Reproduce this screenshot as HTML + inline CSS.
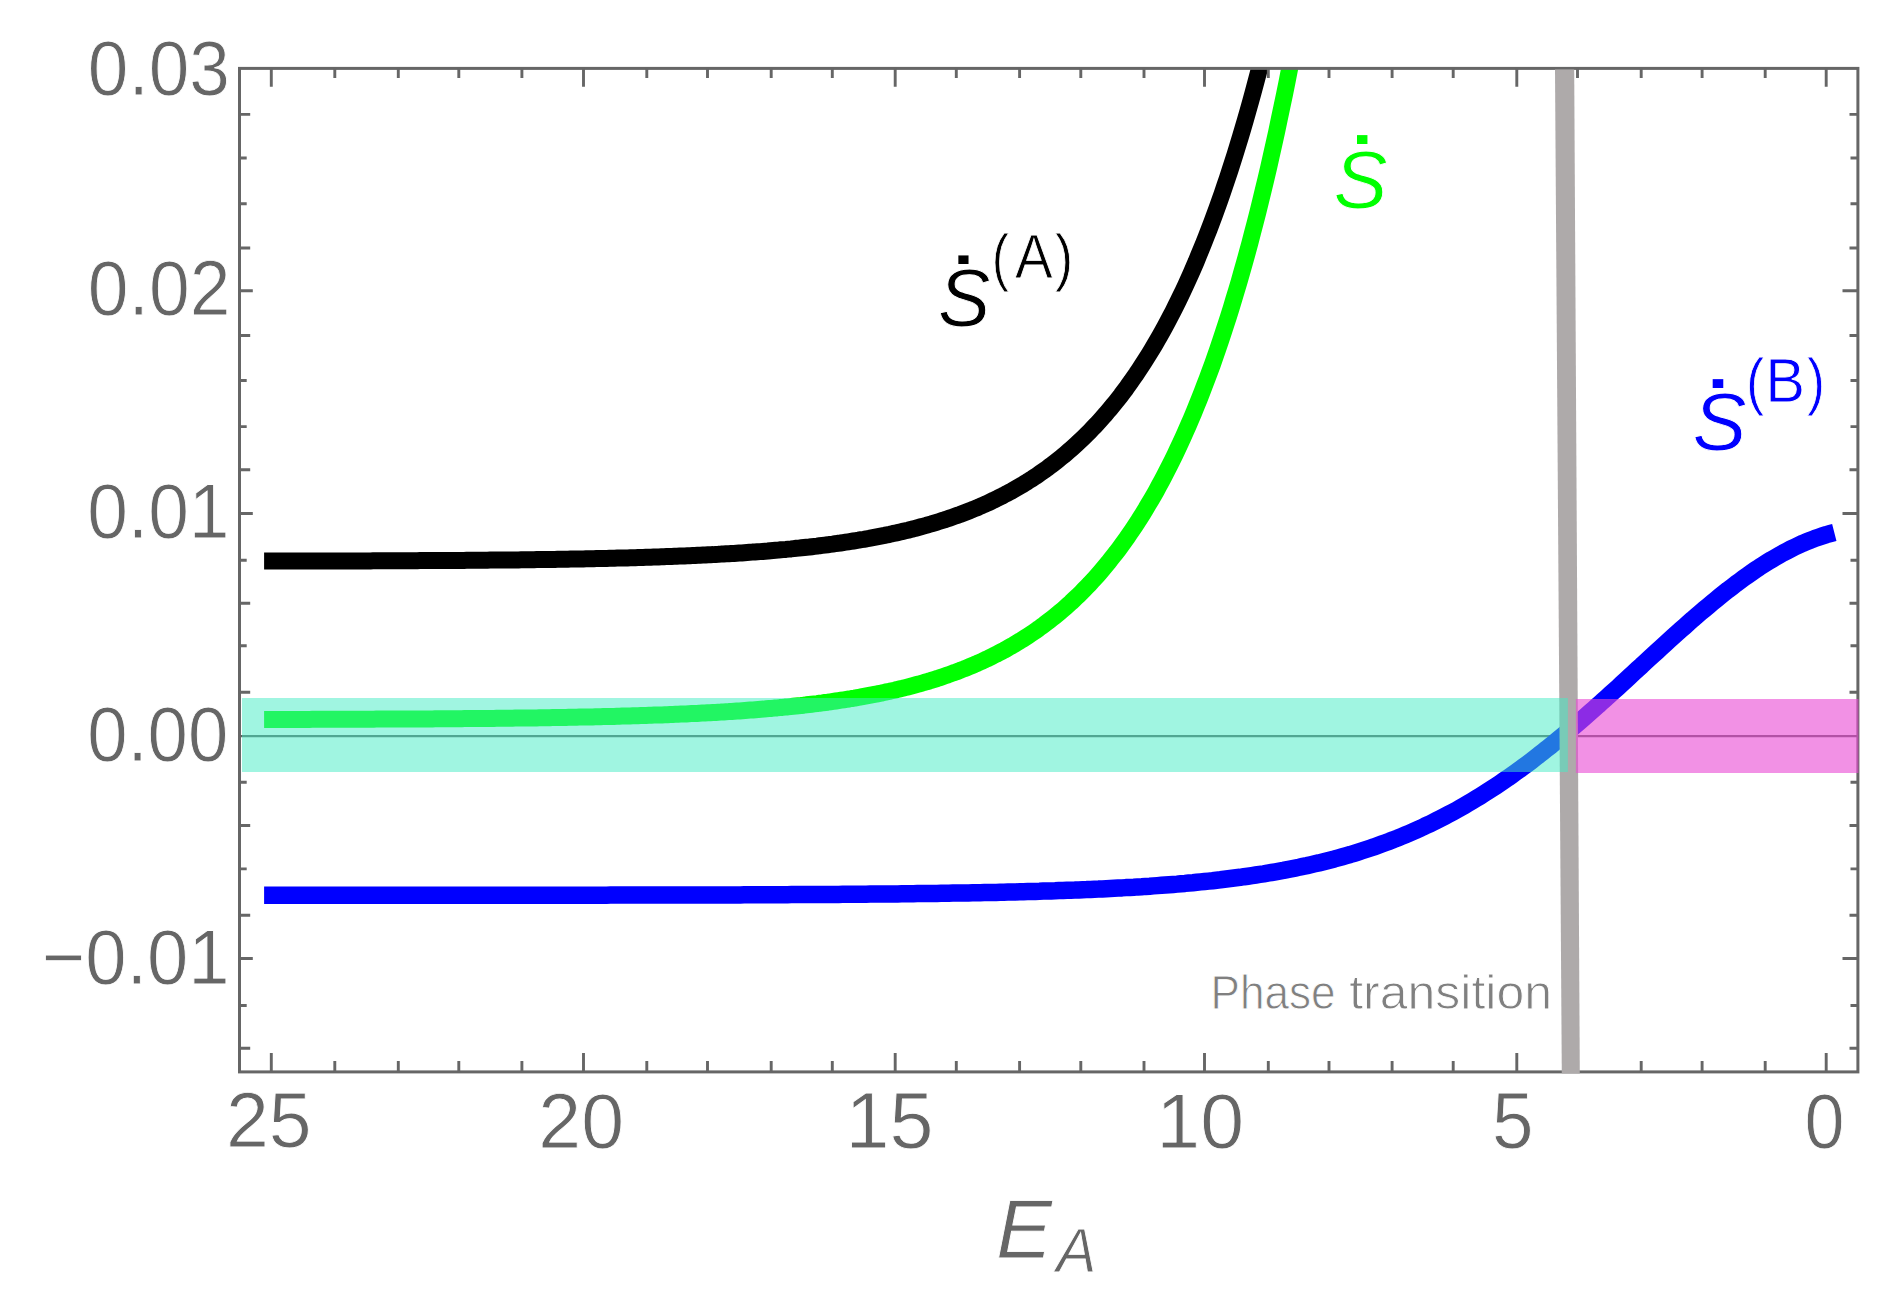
<!DOCTYPE html>
<html lang="en"><head><meta charset="utf-8"><title>Entropy production vs E_A</title>
<style>
html,body{margin:0;padding:0;background:#fff;}
body{width:1897px;height:1306px;overflow:hidden;}
svg{display:block;}
text{font-family:"Liberation Sans",sans-serif;font-kerning:none;white-space:pre;}
</style></head><body>
<svg width="1897" height="1306" viewBox="0 0 1897 1306">
<defs><clipPath id="plot"><rect x="238" y="66.9" width="1622" height="1007"/></clipPath></defs>
<rect width="1897" height="1306" fill="#fff"/>

<line x1="241.0" y1="736.2" x2="1857.9" y2="736.2" stroke="#606060" stroke-width="2.3"/>
<g fill="none" stroke-width="17" stroke-linecap="butt" stroke-linejoin="round" clip-path="url(#plot)">
<path d="M264.1 561.1 L266.7 561.1 L269.3 561.1 L271.9 561.1 L274.5 561.1 L277.1 561.1 L279.7 561.1 L282.3 561.1 L284.9 561.1 L287.5 561.1 L290.1 561.1 L292.7 561.1 L295.3 561.1 L297.9 561.1 L300.4 561.1 L303.0 561.0 L305.6 561.0 L308.2 561.0 L310.8 561.0 L313.4 561.0 L316.0 561.0 L318.6 561.0 L321.2 561.0 L323.8 561.0 L326.4 561.0 L329.0 561.0 L331.6 561.0 L334.2 561.0 L336.8 561.0 L339.4 561.0 L342.0 561.0 L344.6 560.9 L347.2 560.9 L349.8 560.9 L352.4 560.9 L355.0 560.9 L357.6 560.9 L360.2 560.9 L362.8 560.9 L365.4 560.9 L367.9 560.9 L370.5 560.9 L373.1 560.8 L375.7 560.8 L378.3 560.8 L380.9 560.8 L383.5 560.8 L386.1 560.8 L388.7 560.8 L391.3 560.8 L393.9 560.8 L396.5 560.8 L399.1 560.7 L401.7 560.7 L404.3 560.7 L406.9 560.7 L409.5 560.7 L412.1 560.7 L414.7 560.7 L417.3 560.7 L419.9 560.6 L422.5 560.6 L425.1 560.6 L427.7 560.6 L430.3 560.6 L432.9 560.6 L435.5 560.6 L438.0 560.5 L440.6 560.5 L443.2 560.5 L445.8 560.5 L448.4 560.5 L451.0 560.5 L453.6 560.4 L456.2 560.4 L458.8 560.4 L461.4 560.4 L464.0 560.4 L466.6 560.3 L469.2 560.3 L471.8 560.3 L474.4 560.3 L477.0 560.3 L479.6 560.2 L482.2 560.2 L484.8 560.2 L487.4 560.2 L490.0 560.1 L492.6 560.1 L495.2 560.1 L497.8 560.1 L500.4 560.0 L503.0 560.0 L505.6 560.0 L508.1 560.0 L510.7 559.9 L513.3 559.9 L515.9 559.9 L518.5 559.9 L521.1 559.8 L523.7 559.8 L526.3 559.8 L528.9 559.7 L531.5 559.7 L534.1 559.7 L536.7 559.6 L539.3 559.6 L541.9 559.6 L544.5 559.5 L547.1 559.5 L549.7 559.4 L552.3 559.4 L554.9 559.4 L557.5 559.3 L560.1 559.3 L562.7 559.2 L565.3 559.2 L567.9 559.2 L570.5 559.1 L573.1 559.1 L575.6 559.0 L578.2 559.0 L580.8 558.9 L583.4 558.9 L586.0 558.8 L588.6 558.8 L591.2 558.7 L593.8 558.7 L596.4 558.6 L599.0 558.6 L601.6 558.5 L604.2 558.4 L606.8 558.4 L609.4 558.3 L612.0 558.3 L614.6 558.2 L617.2 558.1 L619.8 558.1 L622.4 558.0 L625.0 557.9 L627.6 557.9 L630.2 557.8 L632.8 557.7 L635.4 557.7 L638.0 557.6 L640.6 557.5 L643.2 557.4 L645.7 557.3 L648.3 557.3 L650.9 557.2 L653.5 557.1 L656.1 557.0 L658.7 556.9 L661.3 556.8 L663.9 556.7 L666.5 556.6 L669.1 556.5 L671.7 556.4 L674.3 556.3 L676.9 556.2 L679.5 556.1 L682.1 556.0 L684.7 555.9 L687.3 555.8 L689.9 555.7 L692.5 555.6 L695.1 555.5 L697.7 555.3 L700.3 555.2 L702.9 555.1 L705.5 555.0 L708.1 554.8 L710.7 554.7 L713.2 554.6 L715.8 554.4 L718.4 554.3 L721.0 554.1 L723.6 554.0 L726.2 553.8 L728.8 553.7 L731.4 553.5 L734.0 553.4 L736.6 553.2 L739.2 553.0 L741.8 552.9 L744.4 552.7 L747.0 552.5 L749.6 552.3 L752.2 552.1 L754.8 552.0 L757.4 551.8 L760.0 551.6 L762.6 551.4 L765.2 551.2 L767.8 551.0 L770.4 550.7 L773.0 550.5 L775.6 550.3 L778.2 550.1 L780.8 549.8 L783.3 549.6 L785.9 549.4 L788.5 549.1 L791.1 548.9 L793.7 548.6 L796.3 548.3 L798.9 548.1 L801.5 547.8 L804.1 547.5 L806.7 547.2 L809.3 547.0 L811.9 546.7 L814.5 546.4 L817.1 546.1 L819.7 545.7 L822.3 545.4 L824.9 545.1 L827.5 544.8 L830.1 544.4 L832.7 544.1 L835.3 543.7 L837.9 543.3 L840.5 543.0 L843.1 542.6 L845.7 542.2 L848.3 541.8 L850.9 541.4 L853.4 541.0 L856.0 540.6 L858.6 540.2 L861.2 539.7 L863.8 539.3 L866.4 538.8 L869.0 538.4 L871.6 537.9 L874.2 537.4 L876.8 536.9 L879.4 536.4 L882.0 535.9 L884.6 535.4 L887.2 534.8 L889.8 534.3 L892.4 533.7 L895.0 533.2 L897.6 532.6 L900.2 532.0 L902.8 531.4 L905.4 530.8 L908.0 530.2 L910.6 529.5 L913.2 528.9 L915.8 528.2 L918.4 527.5 L920.9 526.8 L923.5 526.1 L926.1 525.4 L928.7 524.6 L931.3 523.9 L933.9 523.1 L936.5 522.3 L939.1 521.5 L941.7 520.7 L944.3 519.9 L946.9 519.0 L949.5 518.1 L952.1 517.2 L954.7 516.3 L957.3 515.4 L959.9 514.5 L962.5 513.5 L965.1 512.5 L967.7 511.5 L970.3 510.5 L972.9 509.4 L975.5 508.4 L978.1 507.3 L980.7 506.1 L983.3 505.0 L985.9 503.9 L988.5 502.7 L991.0 501.5 L993.6 500.2 L996.2 499.0 L998.8 497.7 L1001.4 496.4 L1004.0 495.0 L1006.6 493.7 L1009.2 492.3 L1011.8 490.9 L1014.4 489.4 L1017.0 487.9 L1019.6 486.4 L1022.2 484.9 L1024.8 483.3 L1027.4 481.7 L1030.0 480.0 L1032.6 478.4 L1035.2 476.7 L1037.8 474.9 L1040.4 473.1 L1043.0 471.3 L1045.6 469.5 L1048.2 467.6 L1050.8 465.6 L1053.4 463.7 L1056.0 461.6 L1058.5 459.6 L1061.1 457.5 L1063.7 455.4 L1066.3 453.2 L1068.9 450.9 L1071.5 448.7 L1074.1 446.4 L1076.7 444.0 L1079.3 441.6 L1081.9 439.1 L1084.5 436.6 L1087.1 434.0 L1089.7 431.4 L1092.3 428.7 L1094.9 426.0 L1097.5 423.2 L1100.1 420.3 L1102.7 417.4 L1105.3 414.5 L1107.9 411.4 L1110.5 408.4 L1113.1 405.2 L1115.7 402.0 L1118.3 398.7 L1120.9 395.4 L1123.5 391.9 L1126.1 388.5 L1128.6 384.9 L1131.2 381.3 L1133.8 377.5 L1136.4 373.8 L1139.0 369.9 L1141.6 365.9 L1144.2 361.9 L1146.8 357.8 L1149.4 353.6 L1152.0 349.3 L1154.6 345.0 L1157.2 340.5 L1159.8 336.0 L1162.4 331.3 L1165.0 326.6 L1167.6 321.7 L1170.2 316.8 L1172.8 311.8 L1175.4 306.6 L1178.0 301.4 L1180.6 296.0 L1183.2 290.6 L1185.8 285.0 L1188.4 279.3 L1191.0 273.5 L1193.6 267.5 L1196.2 261.5 L1198.7 255.3 L1201.3 249.0 L1203.9 242.6 L1206.5 236.0 L1209.1 229.3 L1211.7 222.5 L1214.3 215.5 L1216.9 208.4 L1219.5 201.1 L1222.1 193.7 L1224.7 186.1 L1227.3 178.4 L1229.9 170.5 L1232.5 162.4 L1235.1 154.2 L1237.7 145.8 L1240.3 137.2 L1242.9 128.5 L1245.5 119.6 L1248.1 110.5 L1250.7 101.2 L1253.3 91.7 L1255.9 82.0 L1258.5 72.2 L1261.1 62.1 L1263.7 51.8 L1266.2 41.3" stroke="#000"/>
<path d="M264.1 719.4 L266.8 719.4 L269.4 719.4 L272.1 719.4 L274.8 719.4 L277.5 719.4 L280.1 719.4 L282.8 719.4 L285.5 719.4 L288.1 719.4 L290.8 719.4 L293.5 719.4 L296.2 719.4 L298.8 719.4 L301.5 719.4 L304.2 719.4 L306.8 719.4 L309.5 719.4 L312.2 719.3 L314.9 719.3 L317.5 719.3 L320.2 719.3 L322.9 719.3 L325.5 719.3 L328.2 719.3 L330.9 719.3 L333.6 719.3 L336.2 719.3 L338.9 719.3 L341.6 719.3 L344.2 719.3 L346.9 719.3 L349.6 719.2 L352.3 719.2 L354.9 719.2 L357.6 719.2 L360.3 719.2 L362.9 719.2 L365.6 719.2 L368.3 719.2 L371.0 719.2 L373.6 719.2 L376.3 719.1 L379.0 719.1 L381.6 719.1 L384.3 719.1 L387.0 719.1 L389.7 719.1 L392.3 719.1 L395.0 719.1 L397.7 719.1 L400.3 719.0 L403.0 719.0 L405.7 719.0 L408.4 719.0 L411.0 719.0 L413.7 719.0 L416.4 719.0 L419.0 718.9 L421.7 718.9 L424.4 718.9 L427.1 718.9 L429.7 718.9 L432.4 718.9 L435.1 718.8 L437.7 718.8 L440.4 718.8 L443.1 718.8 L445.8 718.8 L448.4 718.8 L451.1 718.7 L453.8 718.7 L456.4 718.7 L459.1 718.7 L461.8 718.7 L464.5 718.6 L467.1 718.6 L469.8 718.6 L472.5 718.6 L475.1 718.5 L477.8 718.5 L480.5 718.5 L483.2 718.5 L485.8 718.4 L488.5 718.4 L491.2 718.4 L493.8 718.4 L496.5 718.3 L499.2 718.3 L501.9 718.3 L504.5 718.3 L507.2 718.2 L509.9 718.2 L512.5 718.2 L515.2 718.1 L517.9 718.1 L520.6 718.1 L523.2 718.0 L525.9 718.0 L528.6 718.0 L531.2 717.9 L533.9 717.9 L536.6 717.9 L539.3 717.8 L541.9 717.8 L544.6 717.7 L547.3 717.7 L549.9 717.7 L552.6 717.6 L555.3 717.6 L558.0 717.5 L560.6 717.5 L563.3 717.4 L566.0 717.4 L568.6 717.3 L571.3 717.3 L574.0 717.2 L576.7 717.2 L579.3 717.1 L582.0 717.1 L584.7 717.0 L587.3 717.0 L590.0 716.9 L592.7 716.9 L595.4 716.8 L598.0 716.7 L600.7 716.7 L603.4 716.6 L606.0 716.6 L608.7 716.5 L611.4 716.4 L614.1 716.4 L616.7 716.3 L619.4 716.2 L622.1 716.1 L624.7 716.1 L627.4 716.0 L630.1 715.9 L632.8 715.8 L635.4 715.8 L638.1 715.7 L640.8 715.6 L643.4 715.5 L646.1 715.4 L648.8 715.3 L651.5 715.2 L654.1 715.1 L656.8 715.1 L659.5 715.0 L662.1 714.9 L664.8 714.8 L667.5 714.7 L670.2 714.5 L672.8 714.4 L675.5 714.3 L678.2 714.2 L680.8 714.1 L683.5 714.0 L686.2 713.9 L688.9 713.7 L691.5 713.6 L694.2 713.5 L696.9 713.4 L699.5 713.2 L702.2 713.1 L704.9 713.0 L707.6 712.8 L710.2 712.7 L712.9 712.5 L715.6 712.4 L718.2 712.2 L720.9 712.1 L723.6 711.9 L726.3 711.7 L728.9 711.6 L731.6 711.4 L734.3 711.2 L736.9 711.0 L739.6 710.9 L742.3 710.7 L745.0 710.5 L747.6 710.3 L750.3 710.1 L753.0 709.9 L755.6 709.7 L758.3 709.5 L761.0 709.3 L763.7 709.1 L766.3 708.8 L769.0 708.6 L771.7 708.4 L774.3 708.1 L777.0 707.9 L779.7 707.6 L782.4 707.4 L785.0 707.1 L787.7 706.9 L790.4 706.6 L793.0 706.3 L795.7 706.0 L798.4 705.7 L801.1 705.5 L803.7 705.2 L806.4 704.8 L809.1 704.5 L811.7 704.2 L814.4 703.9 L817.1 703.6 L819.8 703.2 L822.4 702.9 L825.1 702.5 L827.8 702.2 L830.4 701.8 L833.1 701.4 L835.8 701.0 L838.5 700.6 L841.1 700.2 L843.8 699.8 L846.5 699.4 L849.1 699.0 L851.8 698.5 L854.5 698.1 L857.2 697.6 L859.8 697.2 L862.5 696.7 L865.2 696.2 L867.8 695.7 L870.5 695.2 L873.2 694.7 L875.9 694.2 L878.5 693.6 L881.2 693.1 L883.9 692.5 L886.5 691.9 L889.2 691.4 L891.9 690.8 L894.6 690.2 L897.2 689.5 L899.9 688.9 L902.6 688.3 L905.2 687.6 L907.9 686.9 L910.6 686.2 L913.3 685.5 L915.9 684.8 L918.6 684.1 L921.3 683.3 L923.9 682.5 L926.6 681.8 L929.3 681.0 L932.0 680.1 L934.6 679.3 L937.3 678.5 L940.0 677.6 L942.6 676.7 L945.3 675.8 L948.0 674.9 L950.7 673.9 L953.3 672.9 L956.0 672.0 L958.7 671.0 L961.3 669.9 L964.0 668.9 L966.7 667.8 L969.4 666.7 L972.0 665.6 L974.7 664.4 L977.4 663.3 L980.0 662.1 L982.7 660.9 L985.4 659.6 L988.1 658.4 L990.7 657.1 L993.4 655.7 L996.1 654.4 L998.7 653.0 L1001.4 651.6 L1004.1 650.2 L1006.8 648.7 L1009.4 647.2 L1012.1 645.7 L1014.8 644.1 L1017.4 642.5 L1020.1 640.9 L1022.8 639.2 L1025.5 637.5 L1028.1 635.8 L1030.8 634.0 L1033.5 632.2 L1036.1 630.4 L1038.8 628.5 L1041.5 626.5 L1044.2 624.6 L1046.8 622.6 L1049.5 620.5 L1052.2 618.4 L1054.8 616.3 L1057.5 614.1 L1060.2 611.9 L1062.9 609.6 L1065.5 607.3 L1068.2 604.9 L1070.9 602.5 L1073.5 600.0 L1076.2 597.4 L1078.9 594.9 L1081.6 592.2 L1084.2 589.5 L1086.9 586.8 L1089.6 584.0 L1092.2 581.1 L1094.9 578.2 L1097.6 575.2 L1100.3 572.1 L1102.9 569.0 L1105.6 565.8 L1108.3 562.6 L1110.9 559.2 L1113.6 555.8 L1116.3 552.4 L1119.0 548.8 L1121.6 545.2 L1124.3 541.5 L1127.0 537.8 L1129.6 533.9 L1132.3 530.0 L1135.0 526.0 L1137.7 521.9 L1140.3 517.7 L1143.0 513.4 L1145.7 509.1 L1148.3 504.6 L1151.0 500.1 L1153.7 495.4 L1156.4 490.7 L1159.0 485.8 L1161.7 480.9 L1164.4 475.8 L1167.0 470.7 L1169.7 465.4 L1172.4 460.0 L1175.1 454.5 L1177.7 448.9 L1180.4 443.2 L1183.1 437.3 L1185.7 431.4 L1188.4 425.3 L1191.1 419.0 L1193.8 412.7 L1196.4 406.2 L1199.1 399.5 L1201.8 392.7 L1204.4 385.8 L1207.1 378.8 L1209.8 371.5 L1212.5 364.2 L1215.1 356.7 L1217.8 349.0 L1220.5 341.1 L1223.1 333.1 L1225.8 324.9 L1228.5 316.6 L1231.2 308.0 L1233.8 299.3 L1236.5 290.4 L1239.2 281.3 L1241.8 272.1 L1244.5 262.6 L1247.2 252.9 L1249.9 243.0 L1252.5 232.9 L1255.2 222.6 L1257.9 212.1 L1260.5 201.4 L1263.2 190.4 L1265.9 179.2 L1268.6 167.8 L1271.2 156.1 L1273.9 144.2 L1276.6 132.0 L1279.2 119.5 L1281.9 106.8 L1284.6 93.9 L1287.3 80.6 L1289.9 67.1 L1292.6 53.3" stroke="#00ff00"/>
<path d="M264.1 895.3 L268.0 895.3 L272.0 895.3 L275.9 895.3 L279.8 895.3 L283.8 895.3 L287.7 895.3 L291.6 895.3 L295.6 895.3 L299.5 895.3 L303.5 895.3 L307.4 895.3 L311.3 895.3 L315.3 895.3 L319.2 895.3 L323.1 895.3 L327.1 895.3 L331.0 895.3 L334.9 895.3 L338.9 895.3 L342.8 895.3 L346.7 895.3 L350.7 895.3 L354.6 895.3 L358.5 895.3 L362.5 895.3 L366.4 895.3 L370.4 895.3 L374.3 895.3 L378.2 895.3 L382.2 895.3 L386.1 895.3 L390.0 895.3 L394.0 895.3 L397.9 895.3 L401.8 895.3 L405.8 895.3 L409.7 895.3 L413.6 895.3 L417.6 895.3 L421.5 895.3 L425.4 895.3 L429.4 895.3 L433.3 895.3 L437.3 895.3 L441.2 895.3 L445.1 895.3 L449.1 895.3 L453.0 895.3 L456.9 895.3 L460.9 895.3 L464.8 895.3 L468.7 895.3 L472.7 895.3 L476.6 895.3 L480.5 895.3 L484.5 895.3 L488.4 895.3 L492.3 895.3 L496.3 895.3 L500.2 895.3 L504.2 895.3 L508.1 895.2 L512.0 895.2 L516.0 895.2 L519.9 895.2 L523.8 895.2 L527.8 895.2 L531.7 895.2 L535.6 895.2 L539.6 895.2 L543.5 895.2 L547.4 895.2 L551.4 895.2 L555.3 895.2 L559.3 895.2 L563.2 895.2 L567.1 895.2 L571.1 895.2 L575.0 895.2 L578.9 895.2 L582.9 895.2 L586.8 895.2 L590.7 895.2 L594.7 895.2 L598.6 895.2 L602.5 895.2 L606.5 895.2 L610.4 895.1 L614.3 895.1 L618.3 895.1 L622.2 895.1 L626.2 895.1 L630.1 895.1 L634.0 895.1 L638.0 895.1 L641.9 895.1 L645.8 895.1 L649.8 895.1 L653.7 895.1 L657.6 895.1 L661.6 895.1 L665.5 895.1 L669.4 895.0 L673.4 895.0 L677.3 895.0 L681.2 895.0 L685.2 895.0 L689.1 895.0 L693.1 895.0 L697.0 895.0 L700.9 895.0 L704.9 895.0 L708.8 894.9 L712.7 894.9 L716.7 894.9 L720.6 894.9 L724.5 894.9 L728.5 894.9 L732.4 894.9 L736.3 894.9 L740.3 894.9 L744.2 894.8 L748.1 894.8 L752.1 894.8 L756.0 894.8 L760.0 894.8 L763.9 894.8 L767.8 894.7 L771.8 894.7 L775.7 894.7 L779.6 894.7 L783.6 894.7 L787.5 894.7 L791.4 894.6 L795.4 894.6 L799.3 894.6 L803.2 894.6 L807.2 894.6 L811.1 894.5 L815.0 894.5 L819.0 894.5 L822.9 894.5 L826.9 894.4 L830.8 894.4 L834.7 894.4 L838.7 894.4 L842.6 894.3 L846.5 894.3 L850.5 894.3 L854.4 894.2 L858.3 894.2 L862.3 894.2 L866.2 894.2 L870.1 894.1 L874.1 894.1 L878.0 894.1 L881.9 894.0 L885.9 894.0 L889.8 893.9 L893.8 893.9 L897.7 893.9 L901.6 893.8 L905.6 893.8 L909.5 893.7 L913.4 893.7 L917.4 893.6 L921.3 893.6 L925.2 893.5 L929.2 893.5 L933.1 893.4 L937.0 893.4 L941.0 893.3 L944.9 893.3 L948.8 893.2 L952.8 893.1 L956.7 893.1 L960.7 893.0 L964.6 893.0 L968.5 892.9 L972.5 892.8 L976.4 892.7 L980.3 892.7 L984.3 892.6 L988.2 892.5 L992.1 892.4 L996.1 892.4 L1000.0 892.3 L1003.9 892.2 L1007.9 892.1 L1011.8 892.0 L1015.7 891.9 L1019.7 891.8 L1023.6 891.7 L1027.6 891.6 L1031.5 891.5 L1035.4 891.4 L1039.4 891.3 L1043.3 891.1 L1047.2 891.0 L1051.2 890.9 L1055.1 890.8 L1059.0 890.6 L1063.0 890.5 L1066.9 890.3 L1070.8 890.2 L1074.8 890.1 L1078.7 889.9 L1082.7 889.7 L1086.6 889.6 L1090.5 889.4 L1094.5 889.2 L1098.4 889.1 L1102.3 888.9 L1106.3 888.7 L1110.2 888.5 L1114.1 888.3 L1118.1 888.1 L1122.0 887.9 L1125.9 887.6 L1129.9 887.4 L1133.8 887.2 L1137.7 886.9 L1141.7 886.7 L1145.6 886.4 L1149.6 886.2 L1153.5 885.9 L1157.4 885.6 L1161.4 885.3 L1165.3 885.0 L1169.2 884.7 L1173.2 884.4 L1177.1 884.1 L1181.0 883.7 L1185.0 883.4 L1188.9 883.0 L1192.8 882.7 L1196.8 882.3 L1200.7 881.9 L1204.6 881.5 L1208.6 881.1 L1212.5 880.7 L1216.5 880.2 L1220.4 879.8 L1224.3 879.3 L1228.3 878.8 L1232.2 878.3 L1236.1 877.8 L1240.1 877.3 L1244.0 876.7 L1247.9 876.2 L1251.9 875.6 L1255.8 875.0 L1259.7 874.4 L1263.7 873.8 L1267.6 873.1 L1271.5 872.5 L1275.5 871.8 L1279.4 871.1 L1283.4 870.4 L1287.3 869.6 L1291.2 868.9 L1295.2 868.1 L1299.1 867.3 L1303.0 866.4 L1307.0 865.6 L1310.9 864.7 L1314.8 863.8 L1318.8 862.9 L1322.7 861.9 L1326.6 860.9 L1330.6 859.9 L1334.5 858.9 L1338.4 857.8 L1342.4 856.7 L1346.3 855.6 L1350.3 854.5 L1354.2 853.3 L1358.1 852.1 L1362.1 850.8 L1366.0 849.5 L1369.9 848.2 L1373.9 846.9 L1377.8 845.5 L1381.7 844.1 L1385.7 842.6 L1389.6 841.2 L1393.5 839.6 L1397.5 838.1 L1401.4 836.5 L1405.3 834.9 L1409.3 833.2 L1413.2 831.5 L1417.2 829.7 L1421.1 828.0 L1425.0 826.1 L1429.0 824.3 L1432.9 822.4 L1436.8 820.4 L1440.8 818.4 L1444.7 816.4 L1448.6 814.3 L1452.6 812.2 L1456.5 810.1 L1460.4 807.9 L1464.4 805.6 L1468.3 803.3 L1472.2 801.0 L1476.2 798.6 L1480.1 796.2 L1484.1 793.7 L1488.0 791.2 L1491.9 788.7 L1495.9 786.1 L1499.8 783.5 L1503.7 780.8 L1507.7 778.1 L1511.6 775.3 L1515.5 772.5 L1519.5 769.7 L1523.4 766.8 L1527.3 763.9 L1531.3 760.9 L1535.2 757.9 L1539.1 754.8 L1543.1 751.8 L1547.0 748.6 L1551.0 745.5 L1554.9 742.3 L1558.8 739.1 L1562.8 735.8 L1566.7 732.5 L1570.6 729.2 L1574.6 725.8 L1578.5 722.5 L1582.4 719.1 L1586.4 715.6 L1590.3 712.2 L1594.2 708.7 L1598.2 705.2 L1602.1 701.6 L1606.1 698.1 L1610.0 694.5 L1613.9 691.0 L1617.9 687.4 L1621.8 683.8 L1625.7 680.2 L1629.7 676.5 L1633.6 672.9 L1637.5 669.3 L1641.5 665.7 L1645.4 662.0 L1649.3 658.4 L1653.3 654.8 L1657.2 651.2 L1661.1 647.6 L1665.1 644.0 L1669.0 640.4 L1673.0 636.8 L1676.9 633.3 L1680.8 629.8 L1684.8 626.3 L1688.7 622.8 L1692.6 619.3 L1696.6 615.9 L1700.5 612.5 L1704.4 609.2 L1708.4 605.9 L1712.3 602.6 L1716.2 599.4 L1720.2 596.2 L1724.1 593.0 L1728.0 589.9 L1732.0 586.9 L1735.9 583.9 L1739.9 581.0 L1743.8 578.1 L1747.7 575.3 L1751.7 572.5 L1755.6 569.8 L1759.5 567.2 L1763.5 564.7 L1767.4 562.2 L1771.3 559.8 L1775.3 557.5 L1779.2 555.2 L1783.1 553.0 L1787.1 550.9 L1791.0 548.9 L1794.9 547.0 L1798.9 545.1 L1802.8 543.3 L1806.8 541.7 L1810.7 540.1 L1814.6 538.6 L1818.6 537.2 L1822.5 535.9 L1826.4 534.6 L1830.4 533.5 L1834.3 532.5" stroke="#0000ff" stroke-width="17.5"/>
</g>
<g stroke="#666666" stroke-width="3" fill="none" stroke-linecap="butt">
<rect x="239.5" y="68.4" width="1618.4" height="1003.5000000000001"/>
<path d="M271.3 1071.9V1053M271.3 68.4V86.8M334.8 1071.9V1061M334.8 68.4V78M398.3 1071.9V1061M398.3 68.4V78M458.8 1071.9V1061M458.8 68.4V78M521.9 1071.9V1061M521.9 68.4V78M583.5 1071.9V1053M583.5 68.4V86.8M646.8 1071.9V1061M646.8 68.4V78M707.5 1071.9V1061M707.5 68.4V78M771.2 1071.9V1061M771.2 68.4V78M832.3 1071.9V1061M832.3 68.4V78M895.2 1071.9V1053M895.2 68.4V86.8M956.3 1071.9V1061M956.3 68.4V78M1019.6 1071.9V1061M1019.6 68.4V78M1080.8 1071.9V1061M1080.8 68.4V78M1144.0 1071.9V1061M1144.0 68.4V78M1204.5 1071.9V1053M1204.5 68.4V86.8M1268.3 1071.9V1061M1268.3 68.4V78M1329.0 1071.9V1061M1329.0 68.4V78M1392.1 1071.9V1061M1392.1 68.4V78M1453.2 1071.9V1061M1453.2 68.4V78M1516.8 1071.9V1053M1516.8 68.4V86.8M1577.5 1071.9V1061M1577.5 68.4V78M1641.2 1071.9V1061M1641.2 68.4V78M1702.1 1071.9V1061M1702.1 68.4V78M1765.2 1071.9V1061M1765.2 68.4V78M1826.2 1071.9V1053M1826.2 68.4V86.8M239.5 114.4H250.2M1857.9 114.4H1849.5M239.5 158.0H246.7M1857.9 158.0H1850.5M239.5 203.8H246.7M1857.9 203.8H1850.5M239.5 248.0H250.2M1857.9 248.0H1849.5M239.5 290.8H252.8M1857.9 290.8H1842.5M239.5 335.5H250.2M1857.9 335.5H1849.5M239.5 380.5H246.7M1857.9 380.5H1850.5M239.5 426.6H246.7M1857.9 426.6H1850.5M239.5 469.8H250.2M1857.9 469.8H1849.5M239.5 513.5H252.8M1857.9 513.5H1842.5M239.5 560.3H246.7M1857.9 560.3H1850.5M239.5 603.3H250.2M1857.9 603.3H1849.5M239.5 645.8H246.7M1857.9 645.8H1850.5M239.5 692.2H250.2M1857.9 692.2H1849.5M239.5 782.3H246.7M1857.9 782.3H1850.5M239.5 825.5H250.2M1857.9 825.5H1849.5M239.5 868.9H246.7M1857.9 868.9H1850.5M239.5 915.3H250.2M1857.9 915.3H1849.5M239.5 958.5H252.8M1857.9 958.5H1842.5M239.5 1005.5H246.7M1857.9 1005.5H1850.5M239.5 1048.2H250.2M1857.9 1048.2H1849.5" stroke-width="2.9"/>
</g>
<polygon points="1555,69.5 1574.2,69.5 1579.8,1073.4 1561.8,1073.4" fill="#aeaaaa"/>
<rect x="242" y="698" width="1325.9" height="74" fill="rgb(67,235,196)" fill-opacity="0.506"/>
<rect x="1575.9" y="699" width="282.6" height="74" fill="rgb(234,72,212)" fill-opacity="0.6"/>
<g>
<text transform="translate(87.85 94.75) scale(0.9447 1)" font-size="77.26" fill="#666" stroke="#fff" stroke-width="0.9">0.03</text>
<text transform="translate(87.84 315.25) scale(0.9497 1)" font-size="77.12" fill="#666" stroke="#fff" stroke-width="0.9">0.02</text>
<text transform="translate(87.14 538.03) scale(0.9319 1)" font-size="78.53" fill="#666" stroke="#fff" stroke-width="0.9">0.01</text>
<text transform="translate(87.17 760.54) scale(0.9364 1)" font-size="77.40" fill="#666" stroke="#fff" stroke-width="0.9">0.00</text>
<text transform="translate(41.84 983.83) scale(0.9450 1)" font-size="78.53" fill="#666" stroke="#fff" stroke-width="0.9">−0.01</text>
<text transform="translate(226.02 1147.25) scale(0.9974 1)" font-size="77.26" fill="#666" stroke="#fff" stroke-width="0.9">25</text>
<text transform="translate(538.33 1147.74) scale(0.9880 1)" font-size="77.97" fill="#666" stroke="#fff" stroke-width="0.9">20</text>
<text transform="translate(845.47 1147.73) scale(1.0007 1)" font-size="79.11" fill="#666" stroke="#fff" stroke-width="0.9">15</text>
<text transform="translate(1156.29 1147.74) scale(1.0124 1)" font-size="77.97" fill="#666" stroke="#fff" stroke-width="0.9">10</text>
<text transform="translate(1491.91 1147.73) scale(0.9438 1)" font-size="79.11" fill="#666" stroke="#fff" stroke-width="0.9">5</text>
<text transform="translate(1804.59 1147.73) scale(0.9180 1)" font-size="78.39" fill="#666" stroke="#fff" stroke-width="0.9">0</text>
</g>
<text transform="translate(995.91 1258.00) scale(0.9978 1)" font-size="84.30" font-style="italic" fill="#666" stroke="#fff" stroke-width="0.9">E</text>
<text transform="translate(1056.27 1272.30) scale(0.9568 1)" font-size="62.94" font-style="italic" fill="#666" stroke="#fff" stroke-width="0.9">A</text>
<text transform="translate(937.98 325.81) scale(0.9701 1)" font-size="80.93" font-style="italic" fill="#000" stroke="#fff" stroke-width="0.9">S</text>
<text transform="translate(949.56 329.00) scale(1.1333 1)" font-size="102.40" fill="#000">˙</text>
<text transform="translate(991.70 278.93) scale(0.8314 1)" font-size="62.15" fill="#000" stroke="#fff" stroke-width="0.9">(</text>
<text transform="translate(1015.09 277.90) scale(0.8965 1)" font-size="63.08" fill="#000" stroke="#fff" stroke-width="0.9">A</text>
<text transform="translate(1055.08 278.93) scale(0.8800 1)" font-size="62.15" fill="#000" stroke="#fff" stroke-width="0.9">)</text>
<text transform="translate(1333.50 207.60) scale(0.9946 1)" font-size="81.50" font-style="italic" fill="#00ff00" stroke="#fff" stroke-width="0.9">S</text>
<text transform="translate(1347.89 211.93) scale(1.1293 1)" font-size="104.78" fill="#00ff00">˙</text>
<text transform="translate(1692.50 450.10) scale(0.9929 1)" font-size="81.64" font-style="italic" fill="#0000ff" stroke="#fff" stroke-width="0.9">S</text>
<text transform="translate(1703.51 455.93) scale(1.1510 1)" font-size="104.78" fill="#0000ff">˙</text>
<text transform="translate(1746.11 402.88) scale(0.8563 1)" font-size="63.87" fill="#0000ff" stroke="#fff" stroke-width="0.9">(</text>
<text transform="translate(1765.30 402.00) scale(0.9582 1)" font-size="62.36" fill="#0000ff" stroke="#fff" stroke-width="0.9">B</text>
<text transform="translate(1807.08 402.88) scale(0.8504 1)" font-size="63.87" fill="#0000ff" stroke="#fff" stroke-width="0.9">)</text>
<text transform="translate(1210.58 1008.80) scale(0.9229 1)" font-size="47.80" fill="#808080" stroke="#fff" stroke-width="0.9">Phase </text>
<text transform="translate(1349.14 1008.80) scale(1.0461 1)" font-size="47.80" fill="#808080" stroke="#fff" stroke-width="0.9">transition</text>
</svg></body></html>
